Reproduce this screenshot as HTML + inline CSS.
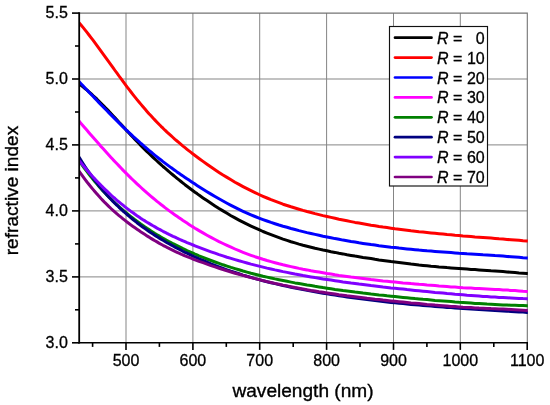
<!DOCTYPE html>
<html><head><meta charset="utf-8"><title>refractive index vs wavelength</title>
<style>html,body{margin:0;padding:0;background:#fff}svg{display:block}</style></head>
<body>
<svg width="550" height="405" viewBox="0 0 550 405">
<rect width="550" height="405" fill="#fff"/>
<g stroke="#858585" stroke-width="1" fill="none"><line x1="126.0" y1="13.0" x2="126.0" y2="342.8"/><line x1="192.9" y1="13.0" x2="192.9" y2="342.8"/><line x1="259.7" y1="13.0" x2="259.7" y2="342.8"/><line x1="326.6" y1="13.0" x2="326.6" y2="342.8"/><line x1="393.5" y1="13.0" x2="393.5" y2="342.8"/><line x1="460.3" y1="13.0" x2="460.3" y2="342.8"/><line x1="79.2" y1="276.9" x2="527.3" y2="276.9"/><line x1="79.2" y1="210.9" x2="527.3" y2="210.9"/><line x1="79.2" y1="144.9" x2="527.3" y2="144.9"/><line x1="79.2" y1="79.0" x2="527.3" y2="79.0"/></g>
<path d="M79.2 13.1 H527.3 V342.8" stroke="#747474" stroke-width="1.1" fill="none"/>
<clipPath id="pa"><rect x="79.25" y="13.0" width="448.55" height="329.8"/></clipPath>
<g clip-path="url(#pa)" fill="none" stroke-width="3" stroke-linejoin="round" stroke-linecap="butt"><path d="M79.0 83.8 L81.0 85.3 L83.0 86.9 L85.0 88.5 L87.0 90.1 L89.0 91.9 L91.0 93.6 L93.0 95.5 L95.0 97.3 L97.0 99.2 L99.0 101.2 L101.0 103.2 L103.0 105.2 L105.0 107.3 L107.0 109.3 L109.0 111.4 L111.0 113.6 L113.0 115.7 L115.0 117.8 L117.0 120.0 L119.0 122.2 L121.0 124.3 L123.0 126.5 L125.0 128.7 L127.0 130.9 L129.0 133.0 L131.0 135.2 L133.0 137.3 L135.0 139.4 L137.0 141.5 L139.0 143.5 L141.0 145.6 L143.0 147.6 L145.0 149.6 L147.0 151.6 L149.0 153.5 L151.0 155.4 L153.0 157.3 L155.0 159.2 L157.0 161.0 L159.0 162.9 L161.0 164.7 L163.0 166.5 L165.0 168.2 L167.0 169.9 L169.0 171.7 L171.0 173.3 L173.0 175.0 L175.0 176.7 L177.0 178.3 L179.0 179.9 L181.0 181.5 L183.0 183.1 L185.0 184.7 L187.0 186.2 L189.0 187.7 L191.0 189.2 L193.0 190.7 L195.0 192.2 L197.0 193.6 L199.0 195.1 L203.0 197.9 L207.0 200.6 L211.0 203.3 L215.0 205.9 L219.0 208.5 L223.0 210.9 L227.0 213.3 L231.0 215.7 L235.0 217.9 L239.0 220.1 L243.0 222.2 L247.0 224.2 L251.0 226.1 L255.0 227.9 L259.0 229.7 L263.0 231.5 L267.0 233.1 L271.0 234.7 L275.0 236.2 L279.0 237.7 L283.0 239.1 L287.0 240.4 L291.0 241.7 L295.0 242.9 L299.0 244.1 L303.0 245.2 L307.0 246.2 L311.0 247.2 L315.0 248.2 L319.0 249.1 L323.0 250.0 L327.0 250.8 L331.0 251.7 L335.0 252.4 L339.0 253.2 L343.0 253.9 L347.0 254.7 L351.0 255.4 L355.0 256.1 L359.0 256.7 L363.0 257.4 L367.0 258.0 L371.0 258.6 L375.0 259.3 L379.0 259.9 L383.0 260.4 L387.0 261.0 L391.0 261.6 L395.0 262.1 L399.0 262.6 L403.0 263.1 L407.0 263.6 L411.0 264.1 L415.0 264.5 L419.0 265.0 L423.0 265.4 L427.0 265.8 L431.0 266.2 L435.0 266.5 L439.0 266.9 L443.0 267.2 L447.0 267.6 L451.0 267.9 L455.0 268.2 L459.0 268.5 L463.0 268.8 L467.0 269.1 L471.0 269.4 L475.0 269.6 L479.0 269.9 L483.0 270.2 L487.0 270.5 L491.0 270.8 L495.0 271.0 L499.0 271.3 L503.0 271.6 L507.0 271.9 L511.0 272.2 L515.0 272.5 L519.0 272.9 L523.0 273.2 L527.0 273.5 L528.0 273.6" stroke="#000000"/><path d="M79.0 22.7 L81.0 25.0 L83.0 27.4 L85.0 29.9 L87.0 32.4 L89.0 35.0 L91.0 37.6 L93.0 40.2 L95.0 42.9 L97.0 45.6 L99.0 48.3 L101.0 51.1 L103.0 53.8 L105.0 56.6 L107.0 59.4 L109.0 62.1 L111.0 64.9 L113.0 67.7 L115.0 70.5 L117.0 73.2 L119.0 76.0 L121.0 78.7 L123.0 81.4 L125.0 84.1 L127.0 86.8 L129.0 89.4 L131.0 92.0 L133.0 94.6 L135.0 97.1 L137.0 99.6 L139.0 102.0 L141.0 104.4 L143.0 106.8 L145.0 109.1 L147.0 111.4 L149.0 113.7 L151.0 115.8 L153.0 118.0 L155.0 120.1 L157.0 122.2 L159.0 124.3 L161.0 126.3 L163.0 128.2 L165.0 130.2 L167.0 132.1 L169.0 133.9 L171.0 135.7 L173.0 137.5 L175.0 139.3 L177.0 141.0 L179.0 142.7 L181.0 144.4 L183.0 146.1 L185.0 147.7 L187.0 149.3 L189.0 150.9 L191.0 152.4 L193.0 154.0 L195.0 155.5 L197.0 157.0 L199.0 158.5 L203.0 161.4 L207.0 164.3 L211.0 167.1 L215.0 169.8 L219.0 172.4 L223.0 175.0 L227.0 177.4 L231.0 179.8 L235.0 182.2 L239.0 184.4 L243.0 186.6 L247.0 188.7 L251.0 190.7 L255.0 192.6 L259.0 194.5 L263.0 196.3 L267.0 198.0 L271.0 199.7 L275.0 201.2 L279.0 202.7 L283.0 204.2 L287.0 205.5 L291.0 206.8 L295.0 208.0 L299.0 209.2 L303.0 210.4 L307.0 211.5 L311.0 212.5 L315.0 213.6 L319.0 214.6 L323.0 215.6 L327.0 216.5 L331.0 217.4 L335.0 218.3 L339.0 219.2 L343.0 220.0 L347.0 220.8 L351.0 221.6 L355.0 222.4 L359.0 223.1 L363.0 223.8 L367.0 224.5 L371.0 225.2 L375.0 225.8 L379.0 226.5 L383.0 227.1 L387.0 227.6 L391.0 228.2 L395.0 228.8 L399.0 229.3 L403.0 229.8 L407.0 230.3 L411.0 230.8 L415.0 231.2 L419.0 231.7 L423.0 232.1 L427.0 232.5 L431.0 232.9 L435.0 233.3 L439.0 233.7 L443.0 234.1 L447.0 234.5 L451.0 234.8 L455.0 235.2 L459.0 235.5 L463.0 235.9 L467.0 236.2 L471.0 236.5 L475.0 236.9 L479.0 237.2 L483.0 237.5 L487.0 237.8 L491.0 238.1 L495.0 238.4 L499.0 238.8 L503.0 239.1 L507.0 239.4 L511.0 239.7 L515.0 240.0 L519.0 240.3 L523.0 240.7 L527.0 241.0 L528.0 241.1" stroke="#ff0000"/><path d="M79.0 81.6 L81.0 83.7 L83.0 85.8 L85.0 88.0 L87.0 90.0 L89.0 92.2 L91.0 94.2 L93.0 96.3 L95.0 98.4 L97.0 100.5 L99.0 102.6 L101.0 104.7 L103.0 106.7 L105.0 108.8 L107.0 110.8 L109.0 112.9 L111.0 114.9 L113.0 116.9 L115.0 118.9 L117.0 120.9 L119.0 122.9 L121.0 124.9 L123.0 126.8 L125.0 128.7 L127.0 130.7 L129.0 132.5 L131.0 134.4 L133.0 136.3 L135.0 138.1 L137.0 139.9 L139.0 141.7 L141.0 143.5 L143.0 145.2 L145.0 147.0 L147.0 148.7 L149.0 150.4 L151.0 152.0 L153.0 153.7 L155.0 155.3 L157.0 156.9 L159.0 158.5 L161.0 160.0 L163.0 161.6 L165.0 163.1 L167.0 164.6 L169.0 166.1 L171.0 167.6 L173.0 169.0 L175.0 170.4 L177.0 171.9 L179.0 173.3 L181.0 174.7 L183.0 176.1 L185.0 177.4 L187.0 178.8 L189.0 180.1 L191.0 181.4 L193.0 182.8 L195.0 184.1 L197.0 185.4 L199.0 186.7 L203.0 189.2 L207.0 191.7 L211.0 194.1 L215.0 196.5 L219.0 198.8 L223.0 201.0 L227.0 203.2 L231.0 205.3 L235.0 207.4 L239.0 209.4 L243.0 211.3 L247.0 213.1 L251.0 214.8 L255.0 216.5 L259.0 218.1 L263.0 219.6 L267.0 221.0 L271.0 222.4 L275.0 223.7 L279.0 225.0 L283.0 226.2 L287.0 227.3 L291.0 228.5 L295.0 229.5 L299.0 230.6 L303.0 231.6 L307.0 232.6 L311.0 233.5 L315.0 234.4 L319.0 235.3 L323.0 236.2 L327.0 237.0 L331.0 237.8 L335.0 238.6 L339.0 239.3 L343.0 240.1 L347.0 240.8 L351.0 241.5 L355.0 242.1 L359.0 242.8 L363.0 243.4 L367.0 244.0 L371.0 244.6 L375.0 245.1 L379.0 245.7 L383.0 246.2 L387.0 246.7 L391.0 247.2 L395.0 247.6 L399.0 248.1 L403.0 248.5 L407.0 248.9 L411.0 249.3 L415.0 249.7 L419.0 250.1 L423.0 250.4 L427.0 250.8 L431.0 251.1 L435.0 251.4 L439.0 251.7 L443.0 252.0 L447.0 252.3 L451.0 252.6 L455.0 252.9 L459.0 253.2 L463.0 253.4 L467.0 253.7 L471.0 253.9 L475.0 254.2 L479.0 254.5 L483.0 254.8 L487.0 255.0 L491.0 255.3 L495.0 255.6 L499.0 255.8 L503.0 256.1 L507.0 256.4 L511.0 256.7 L515.0 257.0 L519.0 257.3 L523.0 257.7 L527.0 258.0 L528.0 258.1" stroke="#0000ff"/><path d="M79.0 121.0 L81.0 123.4 L83.0 125.7 L85.0 128.0 L87.0 130.3 L89.0 132.7 L91.0 135.0 L93.0 137.3 L95.0 139.6 L97.0 141.8 L99.0 144.1 L101.0 146.4 L103.0 148.6 L105.0 150.8 L107.0 153.0 L109.0 155.2 L111.0 157.4 L113.0 159.6 L115.0 161.7 L117.0 163.8 L119.0 165.9 L121.0 168.0 L123.0 170.1 L125.0 172.1 L127.0 174.1 L129.0 176.1 L131.0 178.1 L133.0 180.0 L135.0 181.9 L137.0 183.8 L139.0 185.7 L141.0 187.5 L143.0 189.3 L145.0 191.1 L147.0 192.9 L149.0 194.6 L151.0 196.3 L153.0 198.0 L155.0 199.6 L157.0 201.3 L159.0 202.9 L161.0 204.5 L163.0 206.0 L165.0 207.6 L167.0 209.1 L169.0 210.6 L171.0 212.1 L173.0 213.5 L175.0 214.9 L177.0 216.3 L179.0 217.7 L181.0 219.1 L183.0 220.5 L185.0 221.8 L187.0 223.1 L189.0 224.4 L191.0 225.7 L193.0 226.9 L195.0 228.2 L197.0 229.4 L199.0 230.6 L203.0 232.9 L207.0 235.2 L211.0 237.4 L215.0 239.5 L219.0 241.6 L223.0 243.5 L227.0 245.4 L231.0 247.2 L235.0 249.0 L239.0 250.7 L243.0 252.3 L247.0 253.8 L251.0 255.3 L255.0 256.7 L259.0 258.0 L263.0 259.3 L267.0 260.5 L271.0 261.6 L275.0 262.7 L279.0 263.8 L283.0 264.8 L287.0 265.7 L291.0 266.6 L295.0 267.5 L299.0 268.4 L303.0 269.2 L307.0 269.9 L311.0 270.7 L315.0 271.4 L319.0 272.1 L323.0 272.8 L327.0 273.5 L331.0 274.1 L335.0 274.8 L339.0 275.4 L343.0 275.9 L347.0 276.5 L351.0 277.1 L355.0 277.6 L359.0 278.1 L363.0 278.6 L367.0 279.1 L371.0 279.6 L375.0 280.0 L379.0 280.4 L383.0 280.9 L387.0 281.3 L391.0 281.7 L395.0 282.1 L399.0 282.5 L403.0 282.9 L407.0 283.2 L411.0 283.6 L415.0 283.9 L419.0 284.3 L423.0 284.6 L427.0 285.0 L431.0 285.3 L435.0 285.6 L439.0 286.0 L443.0 286.3 L447.0 286.6 L451.0 286.9 L455.0 287.1 L459.0 287.4 L463.0 287.7 L467.0 287.9 L471.0 288.1 L475.0 288.4 L479.0 288.6 L483.0 288.8 L487.0 289.0 L491.0 289.2 L495.0 289.4 L499.0 289.6 L503.0 289.9 L507.0 290.1 L511.0 290.4 L515.0 290.6 L519.0 290.9 L523.0 291.3 L527.0 291.6 L528.0 291.7" stroke="#ff00ff"/><path d="M79.0 160.7 L81.0 163.5 L83.0 166.3 L85.0 169.1 L87.0 171.7 L89.0 174.3 L91.0 176.9 L93.0 179.3 L95.0 181.8 L97.0 184.1 L99.0 186.4 L101.0 188.7 L103.0 190.9 L105.0 193.0 L107.0 195.1 L109.0 197.1 L111.0 199.1 L113.0 201.1 L115.0 203.0 L117.0 204.8 L119.0 206.6 L121.0 208.4 L123.0 210.1 L125.0 211.8 L127.0 213.5 L129.0 215.1 L131.0 216.7 L133.0 218.2 L135.0 219.8 L137.0 221.2 L139.0 222.7 L141.0 224.2 L143.0 225.6 L145.0 226.9 L147.0 228.3 L149.0 229.6 L151.0 230.9 L153.0 232.2 L155.0 233.5 L157.0 234.7 L159.0 235.9 L161.0 237.1 L163.0 238.2 L165.0 239.4 L167.0 240.5 L169.0 241.6 L171.0 242.6 L173.0 243.7 L175.0 244.7 L177.0 245.7 L179.0 246.7 L181.0 247.7 L183.0 248.7 L185.0 249.6 L187.0 250.6 L189.0 251.5 L191.0 252.3 L193.0 253.2 L195.0 254.1 L197.0 254.9 L199.0 255.8 L203.0 257.4 L207.0 259.0 L211.0 260.5 L215.0 262.0 L219.0 263.4 L223.0 264.8 L227.0 266.1 L231.0 267.4 L235.0 268.6 L239.0 269.8 L243.0 271.0 L247.0 272.1 L251.0 273.2 L255.0 274.2 L259.0 275.2 L263.0 276.2 L267.0 277.1 L271.0 278.0 L275.0 278.9 L279.0 279.7 L283.0 280.5 L287.0 281.3 L291.0 282.1 L295.0 282.9 L299.0 283.6 L303.0 284.3 L307.0 285.0 L311.0 285.6 L315.0 286.3 L319.0 286.9 L323.0 287.6 L327.0 288.2 L331.0 288.8 L335.0 289.4 L339.0 289.9 L343.0 290.5 L347.0 291.0 L351.0 291.5 L355.0 292.1 L359.0 292.6 L363.0 293.1 L367.0 293.5 L371.0 294.0 L375.0 294.4 L379.0 294.9 L383.0 295.3 L387.0 295.8 L391.0 296.2 L395.0 296.6 L399.0 297.0 L403.0 297.4 L407.0 297.8 L411.0 298.2 L415.0 298.6 L419.0 298.9 L423.0 299.3 L427.0 299.6 L431.0 300.0 L435.0 300.4 L439.0 300.7 L443.0 301.0 L447.0 301.3 L451.0 301.6 L455.0 302.0 L459.0 302.3 L463.0 302.5 L467.0 302.8 L471.0 303.1 L475.0 303.4 L479.0 303.6 L483.0 303.8 L487.0 304.1 L491.0 304.3 L495.0 304.5 L499.0 304.7 L503.0 304.9 L507.0 305.0 L511.0 305.2 L515.0 305.3 L519.0 305.5 L523.0 305.6 L527.0 305.7 L528.0 305.7" stroke="#008000"/><path d="M79.0 157.0 L81.0 160.3 L83.0 163.5 L85.0 166.6 L87.0 169.5 L89.0 172.4 L91.0 175.2 L93.0 178.0 L95.0 180.6 L97.0 183.2 L99.0 185.7 L101.0 188.1 L103.0 190.5 L105.0 192.8 L107.0 195.0 L109.0 197.2 L111.0 199.3 L113.0 201.4 L115.0 203.4 L117.0 205.3 L119.0 207.3 L121.0 209.1 L123.0 211.0 L125.0 212.7 L127.0 214.5 L129.0 216.2 L131.0 217.9 L133.0 219.5 L135.0 221.1 L137.0 222.7 L139.0 224.2 L141.0 225.7 L143.0 227.2 L145.0 228.6 L147.0 230.0 L149.0 231.4 L151.0 232.8 L153.0 234.1 L155.0 235.4 L157.0 236.6 L159.0 237.9 L161.0 239.1 L163.0 240.3 L165.0 241.5 L167.0 242.7 L169.0 243.8 L171.0 244.9 L173.0 246.0 L175.0 247.1 L177.0 248.2 L179.0 249.2 L181.0 250.2 L183.0 251.3 L185.0 252.3 L187.0 253.2 L189.0 254.2 L191.0 255.2 L193.0 256.1 L195.0 257.0 L197.0 257.9 L199.0 258.8 L203.0 260.5 L207.0 262.2 L211.0 263.9 L215.0 265.4 L219.0 266.9 L223.0 268.4 L227.0 269.8 L231.0 271.2 L235.0 272.5 L239.0 273.8 L243.0 275.1 L247.0 276.3 L251.0 277.4 L255.0 278.6 L259.0 279.6 L263.0 280.7 L267.0 281.7 L271.0 282.7 L275.0 283.6 L279.0 284.6 L283.0 285.5 L287.0 286.3 L291.0 287.2 L295.0 288.0 L299.0 288.8 L303.0 289.6 L307.0 290.3 L311.0 291.1 L315.0 291.8 L319.0 292.5 L323.0 293.2 L327.0 293.8 L331.0 294.5 L335.0 295.1 L339.0 295.7 L343.0 296.3 L347.0 296.9 L351.0 297.5 L355.0 298.0 L359.0 298.6 L363.0 299.1 L367.0 299.6 L371.0 300.1 L375.0 300.6 L379.0 301.0 L383.0 301.5 L387.0 301.9 L391.0 302.4 L395.0 302.8 L399.0 303.2 L403.0 303.6 L407.0 304.0 L411.0 304.4 L415.0 304.7 L419.0 305.1 L423.0 305.4 L427.0 305.8 L431.0 306.1 L435.0 306.4 L439.0 306.7 L443.0 307.1 L447.0 307.4 L451.0 307.6 L455.0 307.9 L459.0 308.2 L463.0 308.5 L467.0 308.8 L471.0 309.0 L475.0 309.3 L479.0 309.5 L483.0 309.8 L487.0 310.0 L491.0 310.3 L495.0 310.5 L499.0 310.7 L503.0 311.0 L507.0 311.2 L511.0 311.4 L515.0 311.7 L519.0 311.9 L523.0 312.1 L527.0 312.4 L528.0 312.4" stroke="#000080"/><path d="M79.0 160.4 L81.0 162.9 L83.0 165.4 L85.0 167.8 L87.0 170.2 L89.0 172.5 L91.0 174.7 L93.0 176.9 L95.0 179.1 L97.0 181.2 L99.0 183.3 L101.0 185.4 L103.0 187.4 L105.0 189.3 L107.0 191.2 L109.0 193.1 L111.0 195.0 L113.0 196.8 L115.0 198.5 L117.0 200.3 L119.0 202.0 L121.0 203.6 L123.0 205.2 L125.0 206.8 L127.0 208.4 L129.0 209.9 L131.0 211.4 L133.0 212.8 L135.0 214.3 L137.0 215.7 L139.0 217.0 L141.0 218.4 L143.0 219.7 L145.0 220.9 L147.0 222.2 L149.0 223.4 L151.0 224.6 L153.0 225.8 L155.0 226.9 L157.0 228.1 L159.0 229.2 L161.0 230.2 L163.0 231.3 L165.0 232.3 L167.0 233.4 L169.0 234.4 L171.0 235.3 L173.0 236.3 L175.0 237.2 L177.0 238.2 L179.0 239.1 L181.0 240.0 L183.0 240.8 L185.0 241.7 L187.0 242.6 L189.0 243.4 L191.0 244.2 L193.0 245.0 L195.0 245.8 L197.0 246.6 L199.0 247.4 L203.0 248.9 L207.0 250.4 L211.0 251.8 L215.0 253.2 L219.0 254.6 L223.0 255.9 L227.0 257.2 L231.0 258.4 L235.0 259.6 L239.0 260.8 L243.0 261.9 L247.0 263.0 L251.0 264.1 L255.0 265.1 L259.0 266.1 L263.0 267.1 L267.0 268.1 L271.0 269.0 L275.0 269.9 L279.0 270.7 L283.0 271.6 L287.0 272.4 L291.0 273.2 L295.0 274.0 L299.0 274.7 L303.0 275.5 L307.0 276.2 L311.0 276.9 L315.0 277.6 L319.0 278.2 L323.0 278.9 L327.0 279.5 L331.0 280.1 L335.0 280.7 L339.0 281.3 L343.0 281.9 L347.0 282.4 L351.0 283.0 L355.0 283.5 L359.0 284.1 L363.0 284.6 L367.0 285.1 L371.0 285.6 L375.0 286.0 L379.0 286.5 L383.0 287.0 L387.0 287.4 L391.0 287.9 L395.0 288.3 L399.0 288.7 L403.0 289.1 L407.0 289.6 L411.0 290.0 L415.0 290.4 L419.0 290.8 L423.0 291.2 L427.0 291.6 L431.0 292.0 L435.0 292.4 L439.0 292.7 L443.0 293.1 L447.0 293.5 L451.0 293.8 L455.0 294.2 L459.0 294.5 L463.0 294.8 L467.0 295.2 L471.0 295.5 L475.0 295.8 L479.0 296.1 L483.0 296.4 L487.0 296.6 L491.0 296.9 L495.0 297.1 L499.0 297.4 L503.0 297.6 L507.0 297.8 L511.0 298.0 L515.0 298.2 L519.0 298.4 L523.0 298.6 L527.0 298.7 L528.0 298.7" stroke="#8000ff"/><path d="M79.0 171.0 L81.0 173.8 L83.0 176.6 L85.0 179.3 L87.0 182.0 L89.0 184.5 L91.0 187.0 L93.0 189.4 L95.0 191.8 L97.0 194.1 L99.0 196.3 L101.0 198.5 L103.0 200.6 L105.0 202.7 L107.0 204.6 L109.0 206.6 L111.0 208.5 L113.0 210.3 L115.0 212.1 L117.0 213.9 L119.0 215.6 L121.0 217.2 L123.0 218.8 L125.0 220.4 L127.0 222.0 L129.0 223.5 L131.0 225.0 L133.0 226.4 L135.0 227.8 L137.0 229.2 L139.0 230.6 L141.0 232.0 L143.0 233.3 L145.0 234.6 L147.0 235.9 L149.0 237.1 L151.0 238.4 L153.0 239.6 L155.0 240.8 L157.0 241.9 L159.0 243.1 L161.0 244.2 L163.0 245.3 L165.0 246.3 L167.0 247.4 L169.0 248.4 L171.0 249.4 L173.0 250.4 L175.0 251.4 L177.0 252.3 L179.0 253.2 L181.0 254.1 L183.0 255.0 L185.0 255.8 L187.0 256.6 L189.0 257.4 L191.0 258.2 L193.0 259.0 L195.0 259.8 L197.0 260.5 L199.0 261.3 L203.0 262.7 L207.0 264.2 L211.0 265.6 L215.0 266.9 L219.0 268.2 L223.0 269.5 L227.0 270.8 L231.0 272.0 L235.0 273.2 L239.0 274.3 L243.0 275.4 L247.0 276.5 L251.0 277.6 L255.0 278.6 L259.0 279.6 L263.0 280.6 L267.0 281.6 L271.0 282.5 L275.0 283.4 L279.0 284.2 L283.0 285.1 L287.0 285.9 L291.0 286.7 L295.0 287.5 L299.0 288.2 L303.0 288.9 L307.0 289.7 L311.0 290.4 L315.0 291.0 L319.0 291.7 L323.0 292.3 L327.0 292.9 L331.0 293.5 L335.0 294.1 L339.0 294.7 L343.0 295.2 L347.0 295.8 L351.0 296.3 L355.0 296.8 L359.0 297.3 L363.0 297.8 L367.0 298.3 L371.0 298.7 L375.0 299.2 L379.0 299.6 L383.0 300.1 L387.0 300.5 L391.0 300.9 L395.0 301.3 L399.0 301.7 L403.0 302.1 L407.0 302.5 L411.0 302.9 L415.0 303.2 L419.0 303.6 L423.0 304.0 L427.0 304.4 L431.0 304.7 L435.0 305.1 L439.0 305.4 L443.0 305.7 L447.0 306.0 L451.0 306.4 L455.0 306.6 L459.0 306.9 L463.0 307.2 L467.0 307.4 L471.0 307.6 L475.0 307.9 L479.0 308.1 L483.0 308.2 L487.0 308.4 L491.0 308.6 L495.0 308.7 L499.0 308.9 L503.0 309.1 L507.0 309.3 L511.0 309.5 L515.0 309.7 L519.0 309.9 L523.0 310.2 L527.0 310.5 L528.0 310.6" stroke="#800080"/></g>
<g stroke="#000" fill="none"><line x1="79.2" y1="12.2" x2="79.2" y2="343.5" stroke-width="1.8"/><line x1="78.3" y1="342.8" x2="528.0" y2="342.8" stroke-width="1.5"/><line x1="72.0" y1="342.8" x2="79.2" y2="342.8" stroke-width="1.6"/><line x1="75.0" y1="309.8" x2="79.2" y2="309.8" stroke-width="1.6"/><line x1="72.0" y1="276.9" x2="79.2" y2="276.9" stroke-width="1.6"/><line x1="75.0" y1="243.9" x2="79.2" y2="243.9" stroke-width="1.6"/><line x1="72.0" y1="210.9" x2="79.2" y2="210.9" stroke-width="1.6"/><line x1="75.0" y1="177.9" x2="79.2" y2="177.9" stroke-width="1.6"/><line x1="72.0" y1="144.9" x2="79.2" y2="144.9" stroke-width="1.6"/><line x1="75.0" y1="112.0" x2="79.2" y2="112.0" stroke-width="1.6"/><line x1="72.0" y1="79.0" x2="79.2" y2="79.0" stroke-width="1.6"/><line x1="75.0" y1="46.0" x2="79.2" y2="46.0" stroke-width="1.6"/><line x1="72.0" y1="13.1" x2="79.2" y2="13.1" stroke-width="1.6"/><line x1="92.6" y1="342.8" x2="92.6" y2="346.9" stroke-width="1.6"/><line x1="126.0" y1="342.8" x2="126.0" y2="349.9" stroke-width="1.6"/><line x1="159.4" y1="342.8" x2="159.4" y2="346.9" stroke-width="1.6"/><line x1="192.9" y1="342.8" x2="192.9" y2="349.9" stroke-width="1.6"/><line x1="226.3" y1="342.8" x2="226.3" y2="346.9" stroke-width="1.6"/><line x1="259.7" y1="342.8" x2="259.7" y2="349.9" stroke-width="1.6"/><line x1="293.2" y1="342.8" x2="293.2" y2="346.9" stroke-width="1.6"/><line x1="326.6" y1="342.8" x2="326.6" y2="349.9" stroke-width="1.6"/><line x1="360.0" y1="342.8" x2="360.0" y2="346.9" stroke-width="1.6"/><line x1="393.5" y1="342.8" x2="393.5" y2="349.9" stroke-width="1.6"/><line x1="426.9" y1="342.8" x2="426.9" y2="346.9" stroke-width="1.6"/><line x1="460.3" y1="342.8" x2="460.3" y2="349.9" stroke-width="1.6"/><line x1="493.8" y1="342.8" x2="493.8" y2="346.9" stroke-width="1.6"/><line x1="527.2" y1="342.8" x2="527.2" y2="349.9" stroke-width="1.6"/></g>
<g font-family="'Liberation Sans', Arial, sans-serif" font-size="16" fill="#000" stroke="#000" stroke-width="0.3"><text x="67.8" y="347.8" text-anchor="end">3.0</text><text x="67.8" y="281.9" text-anchor="end">3.5</text><text x="67.8" y="215.9" text-anchor="end">4.0</text><text x="67.8" y="149.9" text-anchor="end">4.5</text><text x="67.8" y="84.0" text-anchor="end">5.0</text><text x="67.8" y="18.1" text-anchor="end">5.5</text><text x="126.0" y="366.2" text-anchor="middle">500</text><text x="192.9" y="366.2" text-anchor="middle">600</text><text x="259.7" y="366.2" text-anchor="middle">700</text><text x="326.6" y="366.2" text-anchor="middle">800</text><text x="393.5" y="366.2" text-anchor="middle">900</text><text x="460.3" y="366.2" text-anchor="middle">1000</text><text x="527.2" y="366.2" text-anchor="middle">1100</text></g>
<g font-family="'Liberation Sans', Arial, sans-serif" font-size="19.1" fill="#000" stroke="#000" stroke-width="0.35"><text x="303" y="396.8" text-anchor="middle">wavelength (nm)</text><text transform="translate(18.4 190.5) rotate(-90)" text-anchor="middle">refractive index</text></g>
<g font-family="'Liberation Sans', Arial, sans-serif" font-size="16" fill="#000"><rect x="389.5" y="26.5" width="98" height="159.5" fill="#fff" stroke="#111" stroke-width="1.15"/><line x1="395" y1="37.7" x2="431.5" y2="37.7" stroke="#000000" stroke-width="2.7" stroke-linecap="round"/><text x="437.1" y="43.7" xml:space="preserve" stroke="#000" stroke-width="0.3"><tspan font-style="italic">R</tspan> =   0</text><line x1="395" y1="57.6" x2="431.5" y2="57.6" stroke="#ff0000" stroke-width="2.7" stroke-linecap="round"/><text x="437.1" y="63.6" xml:space="preserve" stroke="#000" stroke-width="0.3"><tspan font-style="italic">R</tspan> = 10</text><line x1="395" y1="77.5" x2="431.5" y2="77.5" stroke="#0000ff" stroke-width="2.7" stroke-linecap="round"/><text x="437.1" y="83.5" xml:space="preserve" stroke="#000" stroke-width="0.3"><tspan font-style="italic">R</tspan> = 20</text><line x1="395" y1="97.4" x2="431.5" y2="97.4" stroke="#ff00ff" stroke-width="2.7" stroke-linecap="round"/><text x="437.1" y="103.4" xml:space="preserve" stroke="#000" stroke-width="0.3"><tspan font-style="italic">R</tspan> = 30</text><line x1="395" y1="117.3" x2="431.5" y2="117.3" stroke="#008000" stroke-width="2.7" stroke-linecap="round"/><text x="437.1" y="123.3" xml:space="preserve" stroke="#000" stroke-width="0.3"><tspan font-style="italic">R</tspan> = 40</text><line x1="395" y1="137.2" x2="431.5" y2="137.2" stroke="#000080" stroke-width="2.7" stroke-linecap="round"/><text x="437.1" y="143.2" xml:space="preserve" stroke="#000" stroke-width="0.3"><tspan font-style="italic">R</tspan> = 50</text><line x1="395" y1="157.1" x2="431.5" y2="157.1" stroke="#8000ff" stroke-width="2.7" stroke-linecap="round"/><text x="437.1" y="163.1" xml:space="preserve" stroke="#000" stroke-width="0.3"><tspan font-style="italic">R</tspan> = 60</text><line x1="395" y1="177.0" x2="431.5" y2="177.0" stroke="#800080" stroke-width="2.7" stroke-linecap="round"/><text x="437.1" y="183.0" xml:space="preserve" stroke="#000" stroke-width="0.3"><tspan font-style="italic">R</tspan> = 70</text></g>
</svg>
</body></html>
